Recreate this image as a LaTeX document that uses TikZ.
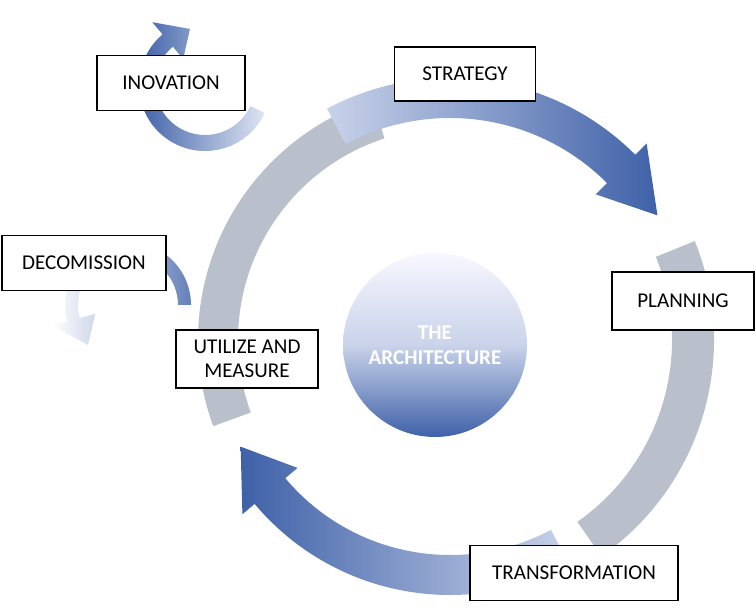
\documentclass[tikz,border=0pt]{standalone}
\usepackage{fontspec}
\setsansfont{Carlito}
\usepackage{tikz}
\usetikzlibrary{shadings}
\definecolor{steel}{HTML}{3F61A8}
\definecolor{pale}{HTML}{C9D3EA}
\definecolor{greyb}{HTML}{B9C0CC}
\tikzset{box/.style={draw, thick, fill=white, font=\sffamily\large, align=center, inner sep=0pt}}
\tikzset{bluedark/.style={left color=pale, right color=steel}}
\tikzset{bluerev/.style={right color=pale, left color=steel}}
\tikzset{greyband/.style={fill=greyb}}
% band with arrow head: start, end, tip angle, inner, outer radius
\newcommand\headband[6]{\path[#6] (#1:#5) arc[start angle=#1, end angle=#2, radius=#5]
  -- (#2:{#5+16}) -- (#3:{(#4+#5)/2}) -- (#2:{#4-16}) -- (#2:#4)
  arc[start angle=#2, end angle=#1, radius=#4] -- cycle;}
\newcommand\plainband[5]{\path[#5] (#1:#4) arc[start angle=#1, end angle=#2, radius=#4]
  -- (#2:#3) arc[start angle=#2, end angle=#1, radius=#3] -- cycle;}
\begin{document}
\begin{tikzpicture}[x=0.02cm, y=0.02cm]
	\useasboundingbox (0,0) rectangle (756,615);

	% big cycle
	\begin{scope}[shift={(450,275)}]
		\plainband{108}{200}{212}{252}{greyband}
		\plainband{22}{-55}{222}{264}{greyband}
		\headband{118}{45}{31}{222}{262}{bluedark}
		\headband{-62}{-140}{-153}{215}{255}{bluerev}
	\end{scope}

	% small loops
	\begin{scope}[shift={(205,530)}]
		\headband{-25}{-230}{-255}{50}{66}{left color=steel, right color=pale!60}
	\end{scope}
	\begin{scope}[shift={(128,310)}]
		\headband{0}{195}{225}{50}{63}{left color=white, right color=steel!80}
	\end{scope}

	% centre
	\node[circle, minimum size=3.68cm, top color=blue!3!white,
	      bottom color=steel, middle color=pale, font=\sffamily\large\bfseries,
	      text=white, align=center] (arch) at (435,270) {THE\\ARCHITECTURE};

	% labels
	\node[box, minimum width=2.96cm, minimum height=1.1cm] (inov) at (171,532) {INOVATION};
	\node[box, minimum width=2.82cm, minimum height=1.08cm] (strat) at (465,541) {STRATEGY};
	\node[box, minimum width=2.84cm, minimum height=1.16cm] (plan) at (683,314) {PLANNING};
	\node[box, minimum width=4.16cm, minimum height=1.1cm] (trans) at (574,42) {TRANSFORMATION};
	\node[box, minimum width=3.28cm, minimum height=1.1cm] (decom) at (84,352) {DECOMISSION};
	\node[box, minimum width=2.84cm, minimum height=1.16cm] (util) at (247,256) {UTILIZE AND\\MEASURE};
\end{tikzpicture}
\end{document}
